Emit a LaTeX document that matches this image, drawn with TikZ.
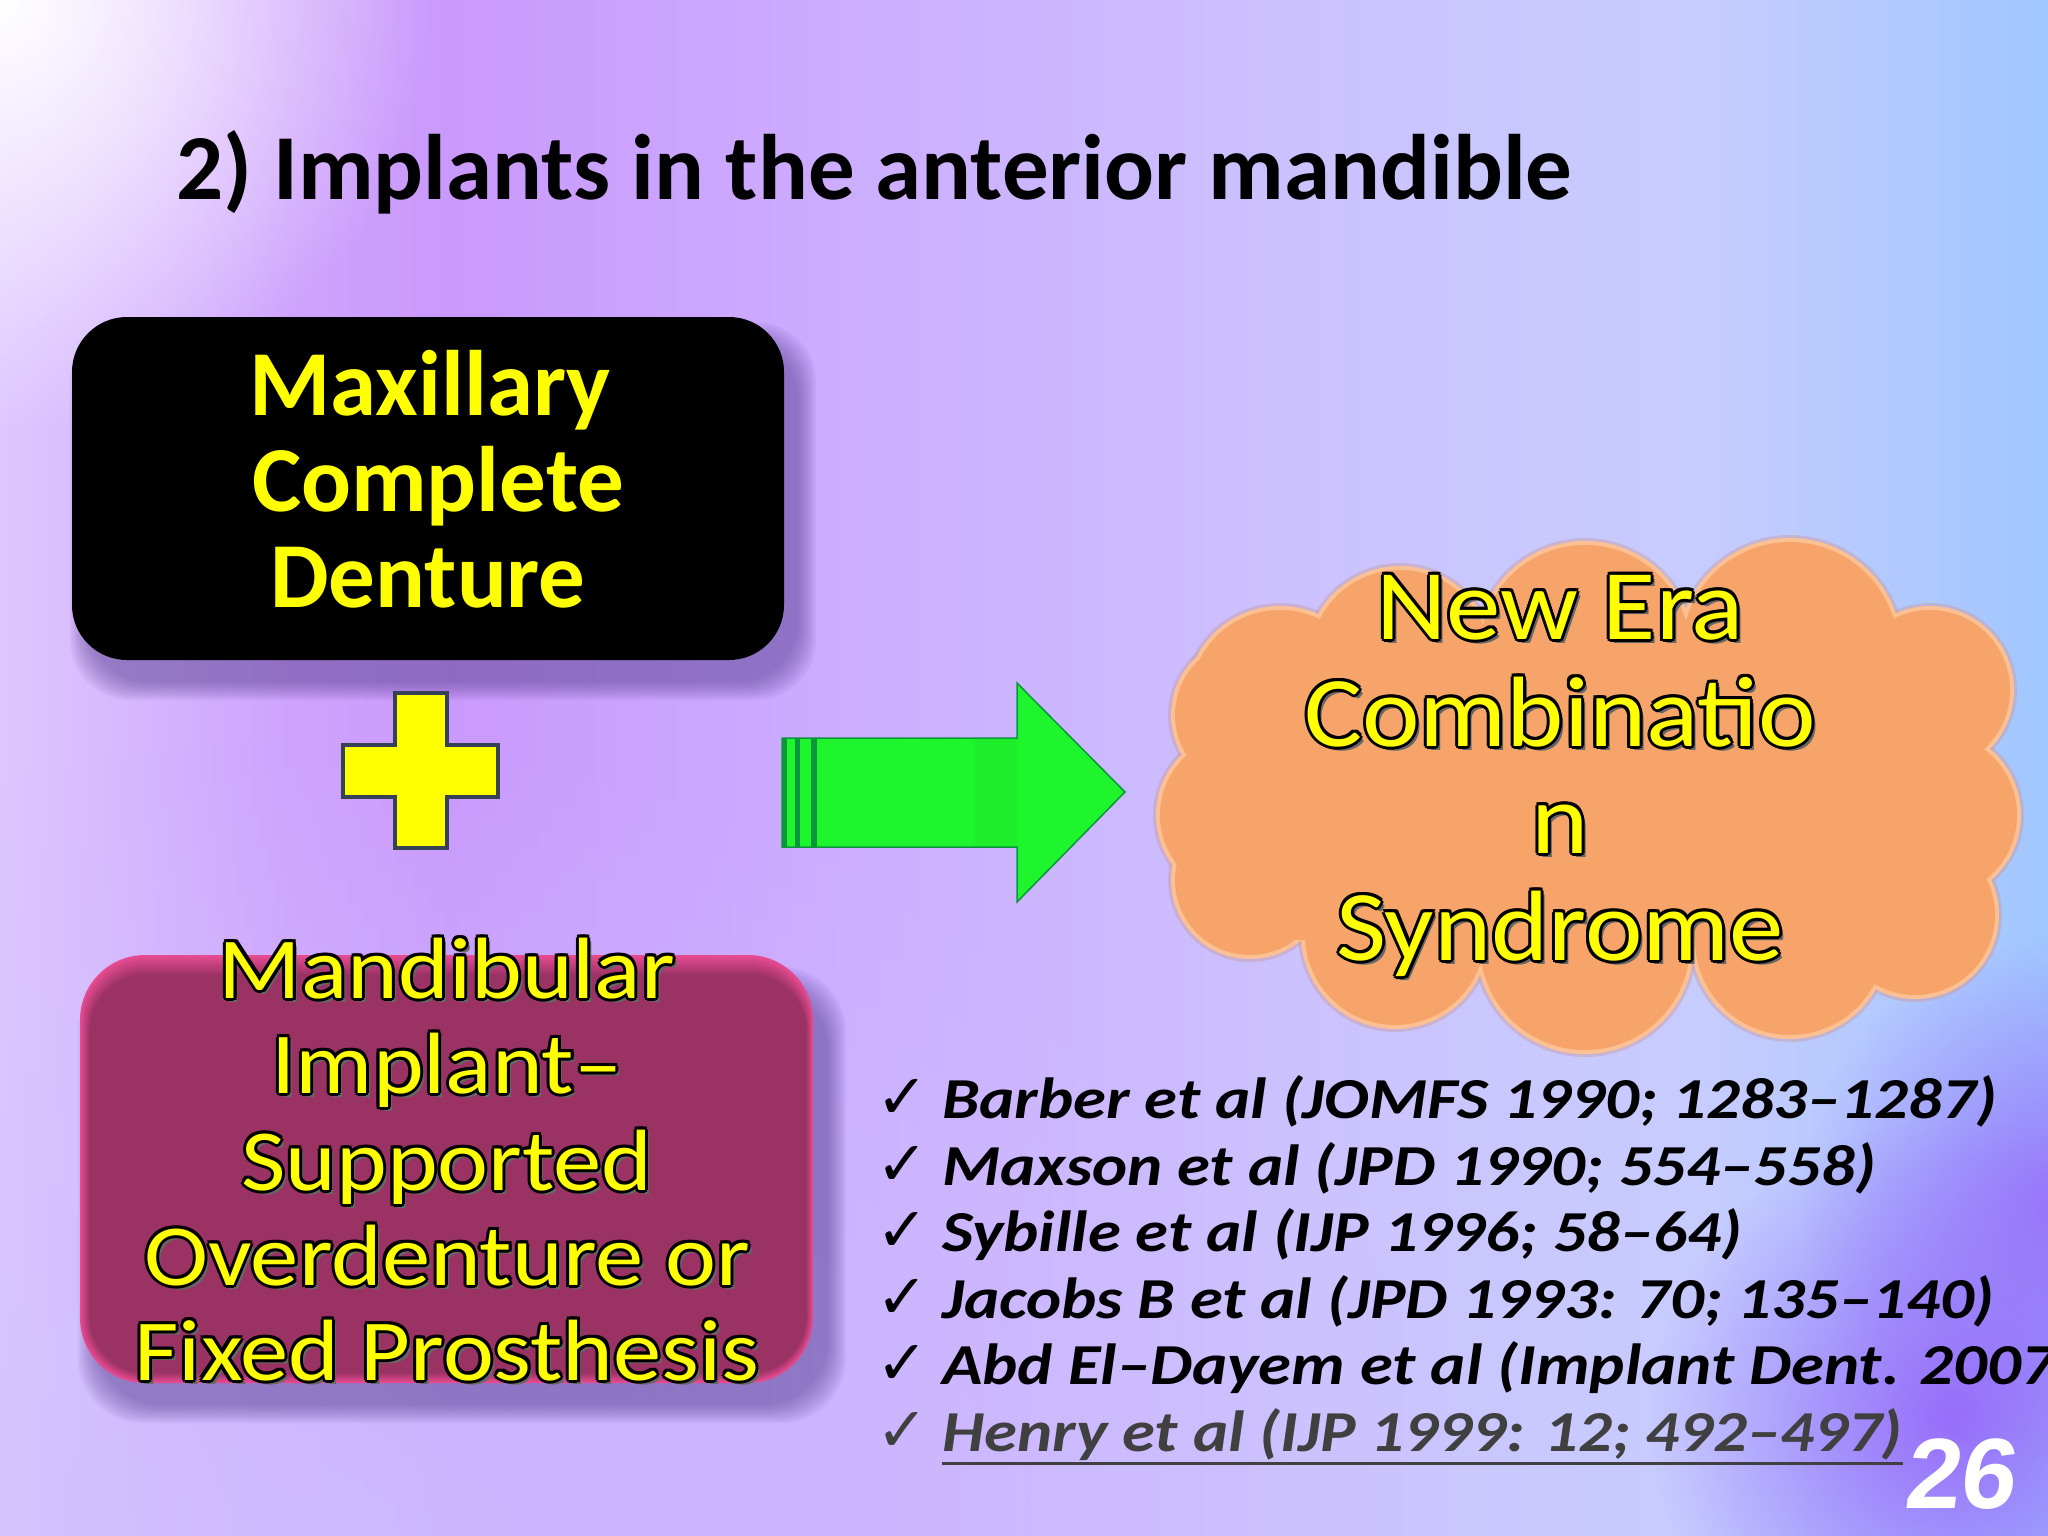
\documentclass[tikz,border=0pt]{standalone}
\usepackage{fontspec}
\setmainfont{Carlito}
\newfontfamily\djv{DejaVu Sans}
\newfontfamily\lib[FakeSlant=0.12]{Liberation Sans}
\newfontfamily\wideA[FakeStretch=1.11]{Carlito}
\newfontfamily\wideB[FakeStretch=1.09]{Carlito}
\newfontfamily\wideC[FakeStretch=1.15]{Carlito}
\usetikzlibrary{fadings}

\definecolor{lav}{RGB}{206,194,255}
\definecolor{purp}{RGB}{150,100,250}
\definecolor{magbase}{RGB}{155,50,100}
\definecolor{magrim}{RGB}{230,75,145}
\definecolor{cloudfill}{RGB}{246,164,106}
\definecolor{cloudrim}{RGB}{252,192,146}
\definecolor{cloudedge}{RGB}{200,160,170}
\definecolor{arrowgreen}{RGB}{30,245,45}
\definecolor{arrowdark}{RGB}{10,150,60}
\definecolor{plusedge}{RGB}{55,65,85}
\definecolor{refgrey}{RGB}{64,64,64}
\definecolor{shadowc}{RGB}{95,70,150}
\definecolor{txtyellow}{RGB}{255,255,0}

\pgfdeclarehorizontalshading{bgshade}{100bp}{rgb(0bp)=(0.87,0.78,1); rgb(25bp)=(0.87,0.78,1); rgb(32bp)=(0.81,0.64,0.99); rgb(36bp)=(0.79,0.60,0.99); rgb(44.5bp)=(0.80,0.67,1); rgb(56.7bp)=(0.80,0.76,1); rgb(66.5bp)=(0.78,0.80,1); rgb(75bp)=(0.63,0.78,1); rgb(100bp)=(0.63,0.78,1)}
\tikzfading[name=radfade, inner color=transparent!0, outer color=transparent!100]

\newlength\olw
\setlength\olw{3pt}
\newcommand\ocp[3]{\makebox[0pt][l]{\hspace*{#1}\raisebox{#2}{#3}}}
\newcommand\olt[1]{%
\ocp{4pt}{-4pt}{\color{black!60}#1}%
\ocp{\olw}{0pt}{\color{black}#1}\ocp{-\olw}{0pt}{\color{black}#1}%
\ocp{0pt}{\olw}{\color{black}#1}\ocp{0pt}{-\olw}{\color{black}#1}%
\ocp{.7\olw}{.7\olw}{\color{black}#1}\ocp{-.7\olw}{.7\olw}{\color{black}#1}%
\ocp{.7\olw}{-.7\olw}{\color{black}#1}\ocp{-.7\olw}{-.7\olw}{\color{black}#1}%
{\color{txtyellow}#1}}

\tikzset{
  titletext/.style={anchor=base west, inner sep=0pt, font=\bfseries\fontsize{93}{93}\selectfont},
  blacktext/.style={anchor=base, inner sep=0pt, text=txtyellow, font=\bfseries\fontsize{93}{93}\selectfont},
  magtext/.style={anchor=base, inner sep=0pt, font=\wideA\fontsize{87}{87}\selectfont},
  cloudtext/.style={anchor=base, inner sep=0pt, font=\wideB\fontsize{100}{100}\selectfont},
  checkmark/.style={anchor=base west, inner sep=0pt, font=\djv\fontsize{62}{62}\selectfont},
  reftext/.style={anchor=base west, inner sep=0pt, font=\wideC\bfseries\itshape\fontsize{58}{58}\selectfont},
}

\newcommand\puffs{1280/700/90, 1400/660/90, 1585/650/105, 1790/650/108, 1930/690/80, 1935/815/82,
  1915/915/80, 1790/940/95, 1585/945/105, 1395/935/90, 1250/880/75, 1240/815/80, 1250/715/75}

\begin{document}
\begin{tikzpicture}[x=1pt,y=-1pt]
\useasboundingbox (0,0) rectangle (2048,1536);
% background
\shade[shading=bgshade] (0,0) rectangle (2048,1536);
\fill[lav, fill opacity=0.8, path fading=radfade] (350,1536) ellipse [x radius=1100, y radius=800];
\fill[white, path fading=radfade] (0,0) circle (430);
\fill[purp, fill opacity=0.9, path fading=radfade] (1950,1420) circle (300);
\fill[purp, fill opacity=0.8, path fading=radfade] (2060,1200) circle (260);

% black box with shadow
\foreach \i in {0,...,9}{
  \fill[shadowc, fill opacity=0.07, rounded corners=60pt] ({88-2*\i},{340-2*\i}) rectangle ({798+2*\i},{682+2*\i});
}
\node[fill=black, rounded corners=55pt, minimum width=712pt, minimum height=343pt, inner sep=0pt] (bbox) at (428,488.5) {};
\node[blacktext] (bt1) at (430,415) {Maxillary};
\node[blacktext] (bt2) at (438,511) {Complete};
\node[blacktext] (bt3) at (428,607) {Denture};

% plus
\draw[fill=txtyellow, draw=plusedge, line width=4pt, line join=miter]
  (395,693) -- (447,693) -- (447,745) -- (498,745) -- (498,797) -- (447,797) -- (447,848)
  -- (395,848) -- (395,797) -- (343,797) -- (343,745) -- (395,745) -- cycle;

% magenta box with shadow
\foreach \i in {0,...,9}{
  \fill[shadowc, fill opacity=0.07, rounded corners=65pt] ({96-2*\i},{985-2*\i}) rectangle ({828+2*\i},{1405+2*\i});
}
\node[fill=magrim, rounded corners=65pt, minimum width=733pt, minimum height=428pt, inner sep=0pt] (mbox) at (446.5,1169) {};
\foreach \i in {1,...,8}{
  \pgfmathsetmacro\pc{100-12.5*\i}
  \fill[magrim!\pc!magbase, rounded corners={(65-\i)*1pt}] ({80+1.2*\i},{955+2.4*\i}) rectangle ({813-0.8*\i},{1383-1.2*\i});
}
\node[magtext] (mt1) at (447,998) {\olt{Mandibular}};
\node[magtext] (mt2) at (447,1093) {\olt{Implant–}};
\node[magtext] (mt3) at (447,1190) {\olt{Supported}};
\node[magtext] (mt4) at (447,1285) {\olt{Overdenture or}};
\node[magtext] (mt5) at (447,1380) {\olt{Fixed Prosthesis}};

% green arrow
\fill[arrowgreen, draw=arrowdark, line width=1.5pt, line join=miter]
  (782,738) -- (1017,738) -- (1017,683) -- (1125,792) -- (1017,902) -- (1017,847) -- (782,847) -- cycle;
\fill[arrowgreen!80!black, fill opacity=0.15] (975,738) -- (1017,738) -- (1017,847) -- (975,847) -- cycle;
\fill[arrowdark] (782,738) rectangle (787,847);
\fill[arrowdark] (795,738) rectangle (800,847);
\fill[arrowdark] (811,738) rectangle (817,847);

% cloud (union of puffs)
\foreach \cx/\cy/\r in \puffs { \fill[cloudedge, fill opacity=0.5] (\cx,\cy) circle ({\r+7}); }
\foreach \cx/\cy/\r in \puffs { \fill[cloudrim] (\cx,\cy) circle ({\r+4}); }
\foreach \cx/\cy/\r in \puffs { \fill[cloudfill] (\cx,\cy) circle (\r); }
\fill[cloudfill] (1270,660) rectangle (1910,940);
\coordinate (cloud) at (1589,795);
\node[cloudtext] (ct1) at (1560,639) {\olt{New Era}};
\node[cloudtext] (ct2) at (1560,746) {\olt{Combinatio}};
\node[cloudtext] (ct3) at (1560,853) {\olt{n}};
\node[cloudtext] (ct4) at (1560,960) {\olt{Syndrome}};

% title
\node[titletext] (title) at (176,199) {2) Implants in the anterior mandible};

% references
\node[checkmark] (c1) at (876,1118) {✓};
\node[checkmark] (c2) at (876,1185) {✓};
\node[checkmark] (c3) at (876,1251) {✓};
\node[checkmark] (c4) at (876,1318) {✓};
\node[checkmark] (c5) at (876,1384) {✓};
\node[checkmark, text=refgrey] (c6) at (876,1451) {✓};
\node[reftext] (r1) at (942,1118) {Barber et al (JOMFS 1990; 1283–1287)};
\node[reftext] (r2) at (942,1185) {Maxson et al (JPD 1990; 554–558)};
\node[reftext] (r3) at (942,1251) {Sybille et al (IJP 1996; 58–64)};
\node[reftext] (r4) at (942,1318) {Jacobs B et al (JPD 1993: 70; 135–140)};
\node[reftext] (r5) at (942,1384) {Abd El–Dayem et al (Implant Dent. 2007};
\node[reftext, text=refgrey] (r6) at (942,1451) {Henry et al (IJP 1999: 12; 492–497)};
\draw[refgrey, line width=3pt] ([yshift=-12pt]r6.base west) -- ([yshift=-12pt]r6.base east);

% page number
\node[anchor=base west, inner sep=0pt, text=white, font=\lib\bfseries\fontsize{100}{100}\selectfont] (pnum) at (1903,1508) {26};
\end{tikzpicture}
\end{document}
